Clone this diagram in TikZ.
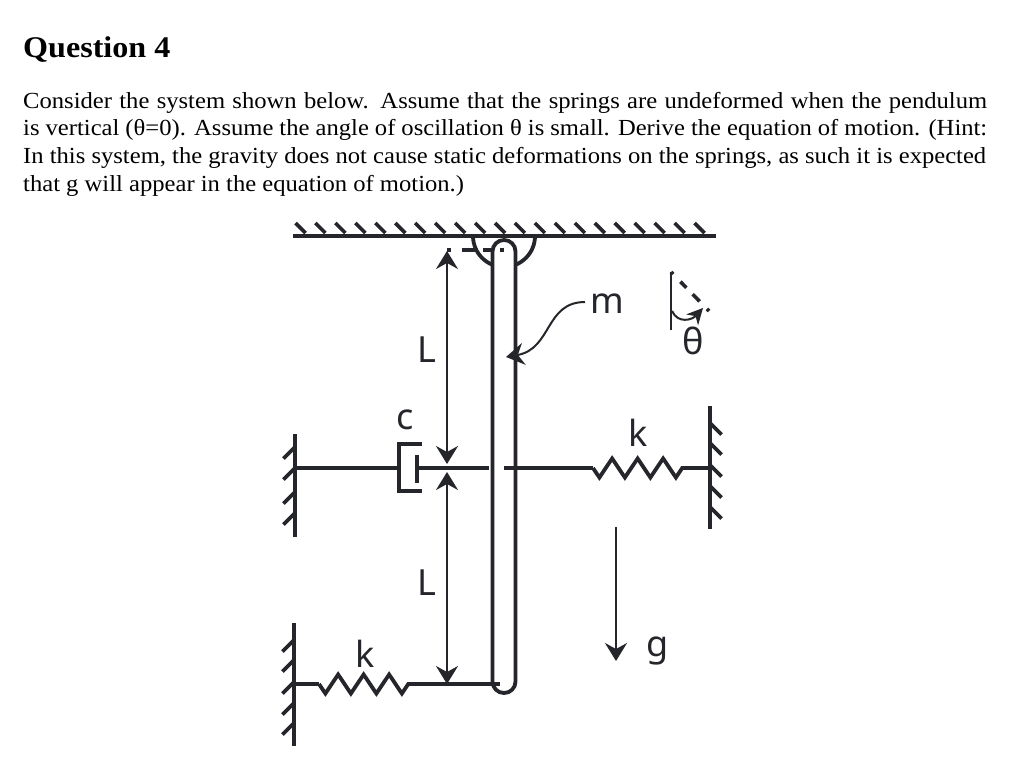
\documentclass[tikz,border=0pt]{standalone}
\usepackage{fontspec}
\setmainfont[FakeStretch=1.07]{Liberation Serif}
\newfontfamily\labelfont{Noto Sans}
\usetikzlibrary{arrows.meta, decorations.pathmorphing}
\definecolor{ink}{HTML}{25262B}
\tikzset{
  body/.style={anchor=base west, inner sep=0pt, font=\fontsize{23}{26}\selectfont, text=black},
  label/.style={inner sep=0pt, font=\labelfont\fontsize{36}{36}\selectfont, text=ink},
  wall/.style={draw=ink, line width=4.3pt},
  hatch/.style={draw=ink, line width=3.6pt},
  link/.style={draw=ink, line width=3.8pt},
  tip/.style={-{Stealth[length=18pt,width=22pt,inset=6pt]}},
  dim/.style={draw=ink, line width=2pt, {Stealth[length=18pt,width=22pt,inset=6pt]}-{Stealth[length=18pt,width=22pt,inset=6pt]}},
  spring/.style={link, decorate, decoration={zigzag, segment length=25.5pt, amplitude=9.5pt, mirror}}
}
\begin{document}
\begin{tikzpicture}[x=1pt, y=-1pt]
  \useasboundingbox[fill=white] (0,0) rectangle (1024,766);
  % text
  \node[body, font=\bfseries\fontsize{30}{30}\selectfont] (title) at (23,57) {Question 4};
  \node[body] (line1) at (23,108) {\makebox[964pt][s]{Consider the system shown below.  Assume that the springs are undeformed when the pendulum}};
  \node[body] (line2) at (23,135.5) {\makebox[964pt][s]{is vertical (θ=0).  Assume the angle of oscillation θ is small.  Derive the equation of motion.  (Hint:}};
  \node[body] (line3) at (23,163) {\makebox[963pt][s]{In this system, the gravity does not cause static deformations on the springs, as such it is expected}};
  \node[body] (line4) at (23,191) {that g will appear in the equation of motion.)};
  % ceiling and pivot
  \draw[wall] (293,236) -- (716,236);
  \foreach \i in {0,...,20} \draw[hatch] (295.5+19.95*\i,223) -- ++(10,10);
  \coordinate (pivot) at (504,236);
  \draw[link] (535,236) arc (0:180:31);
  \node[draw=ink, fill=white, line width=3.8pt, inner sep=0pt, minimum width=23pt, minimum height=453pt, rounded corners=11.4pt] (rod) at (504,466.5) {};
  \coordinate (pend) at (447,250);
  \coordinate (pendend) at (504,250);
  \draw[draw=ink, line width=3.8pt, dash pattern=on 4pt off 11pt on 15pt off 6pt on 10pt off 7pt on 4pt off 9pt] (pend) -- (pendend);
  % walls
  \coordinate (wallA) at (295,434);
  \coordinate (wallAend) at (295,537);
  \coordinate (wallB) at (710,406);
  \coordinate (wallBend) at (710,529);
  \coordinate (wallC) at (294,623);
  \coordinate (wallCend) at (294,746);
  \draw[wall] (wallA) -- (wallAend);
  \draw[wall] (wallB) -- (wallBend);
  \draw[wall] (wallC) -- (wallCend);
  \foreach \y in {447,468,492,513} \draw[hatch] (295,\y) -- ++(-11.5,11.5);
  \foreach \y in {423,443,465,486,507} \draw[hatch] (710,\y) -- ++(11.5,11.5);
  \foreach \y in {640,660,682,703,723} \draw[hatch] (294,\y) -- ++(-11.5,11.5);
  % damper
  \coordinate (midA) at (295,468);
  \coordinate (cupL) at (397,468);
  \coordinate (cupT) at (422,444);
  \coordinate (cupB) at (422,491);
  \coordinate (pistonT) at (417,455);
  \coordinate (pistonB) at (417,483);
  \coordinate (pistonM) at (417,468);
  \coordinate (rodL) at (489,468);
  \draw[link] (midA) -- (cupL);
  \draw[wall] (cupT) -- (399,444) -- (399,491) -- (cupB);
  \draw[wall] (pistonT) -- (pistonB);
  \draw[link] (pistonM) -- (rodL);
  % right spring
  \coordinate (rodR) at (504,468);
  \coordinate (springA) at (593,468);
  \coordinate (springB) at (686,468);
  \coordinate (midB) at (710,468);
  \draw[link] (rodR) -- (springA);
  \draw[spring] (springA) -- (springB);
  \draw[link] (springB) -- (midB);
  % lower spring
  \coordinate (midC) at (294,684);
  \coordinate (springC) at (319,684);
  \coordinate (springD) at (412,684);
  \coordinate (rodB) at (500,684);
  \draw[link] (midC) -- (springC);
  \draw[spring] (springC) -- (springD);
  \draw[link] (springD) -- (rodB);
  % dimensions
  \coordinate (dimT) at (447,251);
  \coordinate (dimM) at (447,464);
  \coordinate (dimN) at (447,472);
  \coordinate (dimB) at (447,684);
  \draw[dim] (dimT) -- (dimM);
  \draw[dim] (dimN) -- (dimB);
  % labels
  \node[label] (Ltop) at (427,350) {L};
  \node[label] (Lbot) at (427,583) {L};
  \node[label] (c) at (405,420) {c};
  \node[label] (kright) at (638,433) {k};
  \node[label] (kleft) at (365,654) {k};
  \node[label] (g) at (658,651) {g};
  \node[label] (m) at (607,304) {m};
  \coordinate (rodM) at (506,357);
  \coordinate (mtail) at (585,302);
  \draw[draw=ink, line width=2pt, tip] (mtail) .. controls (545,302) and (552,349) .. (rodM);
  \coordinate (gT) at (616,527);
  \coordinate (gB) at (616,661);
  \draw[draw=ink, line width=2pt, tip] (gT) -- (gB);
  % angle
  \coordinate (angO) at (671,272);
  \coordinate (angV) at (671,330);
  \coordinate (angD) at (709,311);
  \coordinate (angA) at (672,311);
  \coordinate (angB) at (703,308);
  \draw[draw=ink, line width=2.4pt] (angO) -- (angV);
  \draw[draw=ink, line width=3.6pt, dash pattern=on 3pt off 10.5pt on 8.5pt off 9pt on 10pt off 10.5pt on 3.5pt off 9pt] (angO) -- (angD);
  \draw[draw=ink, line width=2pt, -{Stealth[length=16pt,width=16pt,inset=5pt]}] (angA) .. controls (678,324) and (692,320) .. (angB);
  \node[label] (theta) at (693,341) {θ};
\end{tikzpicture}
\end{document}
